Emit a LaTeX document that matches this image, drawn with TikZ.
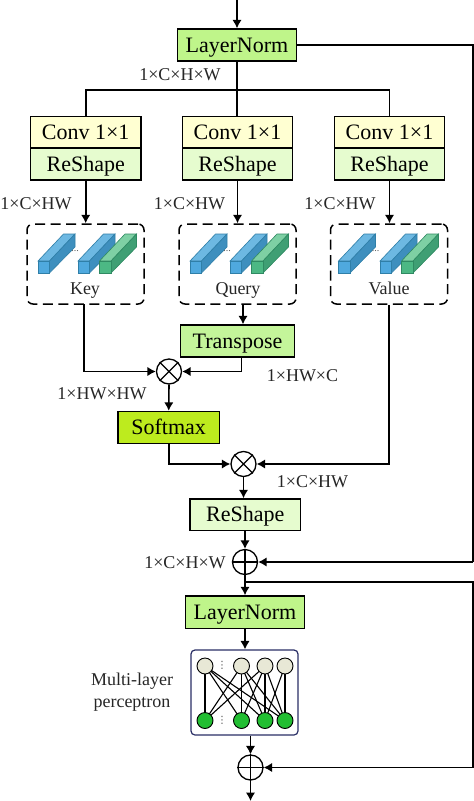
\documentclass[tikz,border=0pt]{standalone}
\usepackage{fontspec}
\setmainfont{Liberation Serif}
\newfontfamily\dejafont{DejaVu Sans}
\usetikzlibrary{arrows.meta,calc}
\definecolor{lngreen}{HTML}{BFF58A}
\definecolor{trgreen}{HTML}{C4F59A}
\definecolor{softg}{HTML}{BDEB1E}
\definecolor{rsgreen}{HTML}{E6FCCF}
\definecolor{convy}{HTML}{FFFFD2}
\definecolor{bfront}{HTML}{4FA9DE}
\definecolor{btop}{HTML}{6DB8E2}
\definecolor{bside}{HTML}{3E8FBE}
\definecolor{gfront}{HTML}{4CB884}
\definecolor{gtop}{HTML}{7ED0A4}
\definecolor{gside}{HTML}{3F9F74}
\definecolor{bedge}{HTML}{2F7FA8}
\definecolor{gedge}{HTML}{2F8A62}
\definecolor{mlpedge}{HTML}{2A2F66}
\definecolor{topn}{HTML}{E8E8D6}
\definecolor{botn}{HTML}{22BE32}
\tikzset{
  x=1pt,y=-1pt,
  line/.style={line width=1.6pt,black},
  arr/.style={line width=1.6pt,black,-{Latex[length=8.5pt,width=9.5pt]}},
  opbox/.style={draw=black,line width=1.4pt,inner sep=0pt,text height=14.5pt,text depth=0pt,font=\fontsize{22}{22}\selectfont,align=center},
  lab/.style={inner sep=0pt,text height=12pt,text depth=0pt,font=\fontsize{18}{18}\selectfont,text=black!85},
  dashbox/.style={draw=black,line width=1.5pt,dash pattern=on 10pt off 5.5pt,rounded corners=6pt,inner sep=0pt},
  opcirc/.style={circle,draw=black,line width=1.3pt,minimum size=25pt,inner sep=0pt,fill=white},
  topnode/.style={circle,draw=black,line width=0.9pt,fill=topn,minimum size=16pt,inner sep=0pt},
  botnode/.style={circle,draw=black,line width=0.9pt,fill=botn,minimum size=16pt,inner sep=0pt},
  wire/.style={line width=1.1pt,black},
  vdots/.style={inner sep=0pt,font=\dejafont\fontsize{10}{10}\selectfont,text=black!70},
}
% cuboid: x of front-left, front fill, top fill, side fill, edge colour
\newcommand{\mycuboid}[5]{%
  \fill[#3,draw=#5,line width=0.6pt] (#1,261) -- (#1+25.5,234) -- (#1+37,234) -- (#1+11.5,261) -- cycle;
  \fill[#4,draw=#5,line width=0.6pt] (#1+11.5,261) -- (#1+37,234) -- (#1+37,247) -- (#1+11.5,273) -- cycle;
  \fill[#2,draw=#5,line width=0.6pt] (#1,261) rectangle (#1+11.5,273);
}
\newcommand{\mystack}[3]{%
  \mycuboid{#1}{bfront}{btop}{bside}{bedge}
  \node[inner sep=0pt,font=\fontsize{10}{10}\selectfont,text=black!65] (#3) at (#1+37,251.5) {...};
  \mycuboid{#2}{bfront}{btop}{bside}{bedge}
  \mycuboid{#2+21.5}{gfront}{gtop}{gside}{gedge}
}
\begin{document}
\begin{tikzpicture}
\useasboundingbox (0,0) rectangle (474,801);
\fill[white] (0,0) rectangle (474,801);

% boxes
\node[opbox,fill=lngreen,minimum width=119pt,minimum height=32pt] (ln1) at (237,45) {LayerNorm};
\foreach \n/\x in {a/85.7,b/237.5,c/389.5}{
  \node[opbox,fill=convy,minimum width=110.5pt,minimum height=31.5pt] (conv\n) at (\x,132.3) {Conv 1×1};
  \node[opbox,fill=rsgreen,minimum width=110.5pt,minimum height=32pt] (rs\n) at (\x,164) {ReShape};
}
\node[dashbox,minimum width=117pt,minimum height=80pt] (key) at (85.5,264) {};
\node[dashbox,minimum width=117pt,minimum height=80pt] (query) at (237.5,264) {};
\node[dashbox,minimum width=117pt,minimum height=80pt] (value) at (389,264) {};
\mystack{38}{78}{dotsa}
\mystack{190}{230}{dotsb}
\mystack{338.5}{380}{dotsc}
\node[lab] (keyt) at (85,288) {Key};
\node[lab] (queryt) at (238,288) {Query};
\node[lab] (valuet) at (389,288) {Value};

\node[opbox,fill=trgreen,minimum width=114pt,minimum height=32pt] (tr) at (237.5,341) {Transpose};
\node[opcirc] (m1) at (169,371.5) {};
\draw[line width=1.3pt] (m1.north west) -- (m1.south east) (m1.north east) -- (m1.south west);
\node[opbox,fill=softg,minimum width=101.5pt,minimum height=32pt] (sm) at (168.7,427.5) {Softmax};
\node[opcirc] (m2) at (243.5,464) {};
\draw[line width=1.3pt] (m2.north west) -- (m2.south east) (m2.north east) -- (m2.south west);
\node[opbox,fill=rsgreen,minimum width=110.5pt,minimum height=31.5pt] (rs2) at (245.2,514.7) {ReShape};
\node[opcirc] (p1) at (245,562) {};
\draw[line width=1.3pt] (p1.north) -- (p1.south) (p1.west) -- (p1.east);
\node[opbox,fill=lngreen,minimum width=119.5pt,minimum height=32.5pt] (ln2) at (245,612.2) {LayerNorm};
\node[draw=mlpedge,line width=1.2pt,rounded corners=4pt,minimum width=107pt,minimum height=85pt,inner sep=0pt,fill=white] (mlp) at (244.5,692.5) {};
\node[opcirc] (p2) at (250.5,767.5) {};
\draw[line width=1.3pt] (p2.north) -- (p2.south) (p2.west) -- (p2.east);

% MLP
\foreach \i/\x in {1/205,2/241.5,3/265,4/285}{
  \coordinate (t\i) at (\x,666);
  \coordinate (b\i) at (\x,720.5);
}
\foreach \s/\e in {1/1,1/2,1/3,1/4,2/1,2/2,2/3,2/4,3/1,3/2,3/3,3/4,4/3,4/4}{
  \draw[wire] (t\s) -- (b\e);
}
\node[vdots] (vd1) at (222,665.5) {⋮};
\node[vdots] (vd2) at (222,720.5) {⋮};
\foreach \i in {1,2,3,4}{
  \node[topnode] (tn\i) at (t\i) {};
  \node[botnode] (bn\i) at (b\i) {};
}

% connectors
\coordinate (in) at (237,0);
\coordinate (out) at (250.5,801);
\coordinate (br) at (237,90);
\coordinate (sk1a) at (473,45);
\coordinate (sk1b) at (473,562);
\coordinate (sk2s) at (245,582);
\coordinate (sk2a) at (473,582);
\coordinate (sk2b) at (473,767.5);
\coordinate (qo) at (243,304);
\coordinate (ko) at (84,304);
\coordinate (ke) at (84,371.5);
\coordinate (to) at (241.5,357);
\coordinate (te) at (241.5,371.5);
\draw[arr] (in) -- (in |- ln1.north);
\draw[line] (ln1.south) -- (convb.north -| ln1.south);
\draw[line] (conva.north) -- (conva.north |- br) -- (convc.north |- br) -- (convc.north);
\draw[line] (ln1.east) -- (sk1a) -- (sk1b);
\draw[arr] (sk1b) -- (p1.east);
\draw[arr] (rsa.south) -- (rsa.south |- key.north);
\draw[arr] (rsb.south) -- (rsb.south |- query.north);
\draw[arr] (rsc.south) -- (rsc.south |- value.north);
\draw[arr] (qo) -- (qo |- tr.north);
\draw[arr] (ko) -- (ke) -- (m1.west);
\draw[arr] (to) -- (te) -- (m1.east);
\draw[arr] (m1.south) -- (sm.north);
\draw[arr] (sm.south) -- (sm.south |- m2.west) -- (m2.west);
\draw[arr] (value.south) -- (value.south |- m2.east) -- (m2.east);
\draw[arr] (m2.south) -- (m2.south |- rs2.north);
\draw[arr] (rs2.south -| p1.north) -- (p1.north);
\draw[arr] (p1.south) -- (ln2.north);
\draw[line] (sk2s) -- (sk2a) -- (sk2b);
\draw[arr] (sk2b) -- (p2.east);
\draw[arr] (ln2.south) -- (ln2.south |- mlp.north);
\draw[arr] (mlp.south -| p2.north) -- (p2.north);
\draw[arr] (p2.south) -- (out);

% labels
\node[lab] (l1) at (180,74) {1×C×H×W};
\node[lab] (l2) at (36,203) {1×C×HW};
\node[lab] (l3) at (189.5,203) {1×C×HW};
\node[lab] (l4) at (340,203) {1×C×HW};
\node[lab] (l5) at (302.5,375) {1×HW×C};
\node[lab] (l6) at (102,393.5) {1×HW×HW};
\node[lab] (l7) at (312.5,481.5) {1×C×HW};
\node[lab] (l8) at (185,562) {1×C×H×W};
\node[lab] (l9) at (132,679) {Multi-layer};
\node[lab] (l10) at (132,701) {perceptron};
\end{tikzpicture}
\end{document}
